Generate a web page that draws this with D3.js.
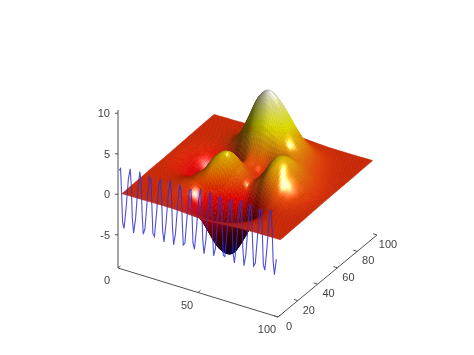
<!DOCTYPE html>
<html><head><meta charset="utf-8">
<style>html,body{margin:0;padding:0;background:#fff}svg{display:block}</style>
<script src="https://cdn.jsdelivr.net/npm/d3@7"></script>
</head><body><svg id="c" width="474" height="355"><defs><filter id="soft" x="-5%" y="-5%" width="110%" height="110%"><feGaussianBlur stdDeviation="0.45"/></filter></defs></svg>
<script>
// Surface heights estimated for the pictured surface, on a 17 x 17 lattice (rows: y low to high).
const gridX = [1,7.19,13.38,19.56,25.75,31.94,38.13,44.31,50.5,56.69,62.88,69.06,75.25,81.44,87.63,93.81,100];
const gridY = gridX.slice();
const heights = [
[0,0,0,0,0,-.02,-.08,-.17,-.25,-.24,-.17,-.09,-.03,-.01,0,0,0],
[0,0,.01,.01,0,-.09,-.35,-.75,-1.06,-1.03,-.72,-.36,-.13,-.03,-.01,0,0],
[0,0,.01,.03,.01,-.25,-.98,-2.13,-3.01,-2.95,-2.04,-1,-.35,-.08,-.01,0,0],
[0,.01,.03,.08,.09,-.27,-1.54,-3.69,-5.49,-5.51,-3.83,-1.83,-.59,-.12,-.01,0,0],
[0,0,.03,.13,.33,.34,-.66,-3.09,-5.65,-6.16,-4.3,-1.88,-.44,.01,.05,.02,0],
[0,-.02,-.05,.01,.42,1.28,1.74,.44,-2.16,-3.47,-2.36,-.47,.46,.44,.19,.05,.01],
[-.02,-.08,-.25,-.49,-.28,1.09,3.09,3.44,1.4,-.35,.2,1.56,1.77,1.08,.41,.11,.02],
[-.03,-.15,-.53,-1.24,-1.7,-.66,1.9,3.25,1.86,.43,1.37,2.93,2.85,1.65,.62,.16,.03],
[-.03,-.19,-.69,-1.73,-2.77,-2.3,.07,1.78,.98,.14,1.57,3.39,3.26,1.88,.7,.18,.03],
[-.03,-.17,-.63,-1.63,-2.73,-2.63,-.79,.77,.41,0,1.38,2.96,2.83,1.62,.6,.16,.03],
[-.02,-.11,-.42,-1.07,-1.76,-1.55,-.04,1.38,1.42,1.08,1.65,2.31,1.99,1.1,.4,.1,.02],
[-.01,-.05,-.18,-.4,-.43,.43,2.43,4.46,5.08,4.35,3.33,2.39,1.44,.67,.23,.06,.01],
[0,-.01,-.03,.03,.47,1.87,4.35,6.93,7.96,6.91,4.7,2.6,1.18,.43,.12,.03,0],
[0,0,.02,.15,.62,1.83,3.87,5.98,6.88,5.97,3.97,2.04,.82,.26,.06,.01,0],
[0,0,.02,.1,.36,1,2.06,3.16,3.64,3.16,2.08,1.05,.4,.12,.03,0,0],
[0,0,.01,.04,.13,.36,.72,1.1,1.27,1.1,.72,.36,.13,.04,.01,0,0],
[0,0,0,.01,.03,.08,.17,.26,.3,.26,.17,.08,.03,.01,0,0,0]
];
// Blue trace: one z value per x sample 1..100, read from the oscillation in front of the sheet.
const traceZ = [3.2,3.5,.5,-2.9,-3.6,-1.1,2.5,3.8,1.6,-2.1,-3.8,-2.1,1.6,3.8,2.5,-1.1,-3.6,-2.9,.6,3.5,3.2,0,-3.2,-3.5,-.5,2.9,3.6,1,-2.5,-3.8,-1.5,2.1,3.8,2,-1.6,-3.8,-2.4,1.1,3.6,2.9,-.6,-3.5,-3.2,.1,3.2,3.4,.5,-2.9,-3.6,-1,2.5,3.8,1.5,-2.1,-3.8,-2,1.7,3.8,2.4,-1.1,-3.7,-2.8,.6,3.5,3.2,-.1,-3.3,-3.4,-.4,2.9,3.6,1,-2.6,-3.8,-1.5,2.2,3.8,1.9,-1.7,-3.8,-2.4,1.2,3.7,2.8,-.7,-3.5,-3.1,.2,3.3,3.4,.4,-3,-3.6,-1,2.6,3.7,1.4,-2.2,-3.8,-1.9];
const xTicks = [0,50,100];
const yTicks = [0,20,40,60,80,100];
const zTicks = [-5,0,5,10];

const sub = 6;               // drawing subdivisions per lattice cell (shading only)
const tx = d3.scaleLinear([0,100],[0,1]);
const ty = d3.scaleLinear([0,100],[0,1]);
const tz = d3.scaleLinear([-9,0],[0,1]);
const lerpX = d3.scaleLinear([0,1],[118,119.5]), lerpY = d3.scaleLinear([0,1],[268,194]);
const xvx = d3.scaleLinear([0,1],[160,160]), xvy = d3.scaleLinear([0,1],[49,46.5]);
const yvx = d3.scaleLinear([0,1],[99,93]),  yvy = d3.scaleLinear([0,1],[-82,-80]);
function proj(x,y,z){
  const t=tz(z), a=tx(x), b=ty(y);
  return [lerpX(t)+a*xvx(t)+b*yvx(t), lerpY(t)+a*xvy(t)+b*yvy(t)];
}
const zAxis = d3.scaleLinear([-9.1,10.4],[268,110]);

function cr(p0,p1,p2,p3,t){return .5*((2*p1)+(-p0+p2)*t+(2*p0-5*p1+4*p2-p3)*t*t+(-p0+3*p1-3*p2+p3)*t*t*t);}
const N = gridX.length, M=(N-1)*sub+1;
const at=(j,i)=>heights[Math.max(0,Math.min(N-1,j))][Math.max(0,Math.min(N-1,i))];
function zAt(jf,if_){
  const j=Math.min(N-2,Math.floor(jf)), i=Math.min(N-2,Math.floor(if_)), v=jf-j,u=if_-i;
  const col=[-1,0,1,2].map(d=>cr(at(j+d,i-1),at(j+d,i),at(j+d,i+1),at(j+d,i+2),u));
  return cr(col[0],col[1],col[2],col[3],v);
}
const posX=d3.scaleLinear(d3.range(N),gridX), posY=d3.scaleLinear(d3.range(N),gridY);
const fine=d3.range(M).map(j=>d3.range(M).map(i=>zAt(j/sub,i/sub)));

const zMin=-6.55,zMax=8.1, cl=v=>Math.max(0,Math.min(1,v));
const norm=v=>{const l=Math.hypot(...v);return v.map(c=>c/l)};
const L=norm([.75,-.2,.55]), H=norm([.4,-.28,.87]);
const K=.16, step=(6/(N-1))/sub;
function shade(j,i){
  const zc=(fine[j][i]+fine[j][i+1]+fine[j+1][i]+fine[j+1][i+1])/4;
  const dzx=(fine[j][i+1]+fine[j+1][i+1]-fine[j][i]-fine[j+1][i])/(2*step);
  const dzy=(fine[j+1][i]+fine[j+1][i+1]-fine[j][i]-fine[j][i+1])/(2*step);
  const n=norm([-K*dzx,-K*dzy,1]);
  const t=cl((zc-zMin)/(zMax-zMin));
  const r=cl(t/.375), g=cl((t-.375)/.375), b=cl((t-.75)/.25);
  const d=Math.max(0,n[0]*L[0]+n[1]*L[1]+n[2]*L[2]);
  const s=Math.pow(Math.max(0,n[0]*H[0]+n[1]*H[1]+n[2]*H[2]),110);
  const li=Math.min(.86,.36+.72*d), sp=.9*s;
  const dark=.26*cl(1-r/.5);
  return d3.rgb(255*cl(r*li+sp),255*cl(g*li+sp),255*cl(b*li+sp+dark)).formatHex();
}

const svg=d3.select('#c');
const cells=[];
for(let j=M-2;j>=0;j--)for(let i=0;i<M-1;i++)cells.push([j,i]);
const fx=i=>posX(i/sub), fy=j=>posY(j/sub);
svg.append('g').attr('filter','url(#soft)').selectAll('path').data(cells).join('path')
  .attr('d',([j,i])=>'M'+[proj(fx(i),fy(j),fine[j][i]),proj(fx(i+1),fy(j),fine[j][i+1]),proj(fx(i+1),fy(j+1),fine[j+1][i+1]),proj(fx(i),fy(j+1),fine[j+1][i])].map(p=>p[0].toFixed(2)+','+p[1].toFixed(2)).join('L')+'Z')
  .attr('fill',([j,i])=>shade(j,i))
  .attr('stroke',([j,i])=>shade(j,i)).attr('stroke-width',.5);

const traceLine=d3.line().x(d=>d[0]).y(d=>d[1]);
svg.append('path').attr('d',traceLine(traceZ.map((z,k)=>proj(k+1,-3,z))))
  .attr('fill','none').attr('stroke','#3030d0').attr('stroke-width',1.1).attr('stroke-opacity',.85);

const axisC='#505050', txtC='#404040', font='"Liberation Sans",Arial,sans-serif';
const ax=svg.append('g').attr('stroke',axisC).attr('stroke-width',1).attr('fill','none');
const seg=(a,b)=>ax.append('path').attr('d','M'+a+'L'+b);
seg(proj(0,0,-9),proj(100,0,-9));
seg(proj(100,0,-9),proj(100,100,-9));
seg([118,zAxis(-9.1)],[118,zAxis(10.4)]);
xTicks.forEach(v=>seg(proj(v,0,-9),proj(v,2.5,-9)));
yTicks.forEach(v=>seg(proj(100,v,-9),proj(97.5,v,-9)));
zTicks.forEach(v=>seg([115,zAxis(v)],[118,zAxis(v)]));

const lab=svg.append('g').attr('font-family',font).attr('font-size',11).attr('fill',txtC).attr('opacity',.99);
const put=(s,x,y,a)=>lab.append('text').text(s).attr('x',x).attr('y',y).attr('text-anchor',a).attr('dy','.36em');
xTicks.forEach(v=>{const p=proj(v,0,-9);put(v,p[0]-11,p[1]+12.5,'middle');});
yTicks.forEach(v=>{const p=proj(100,v,-9);put(v,p[0]+11,p[1]+9,'middle');});
zTicks.forEach(v=>put(v,110,zAxis(v),'end'));
</script></body></html>
